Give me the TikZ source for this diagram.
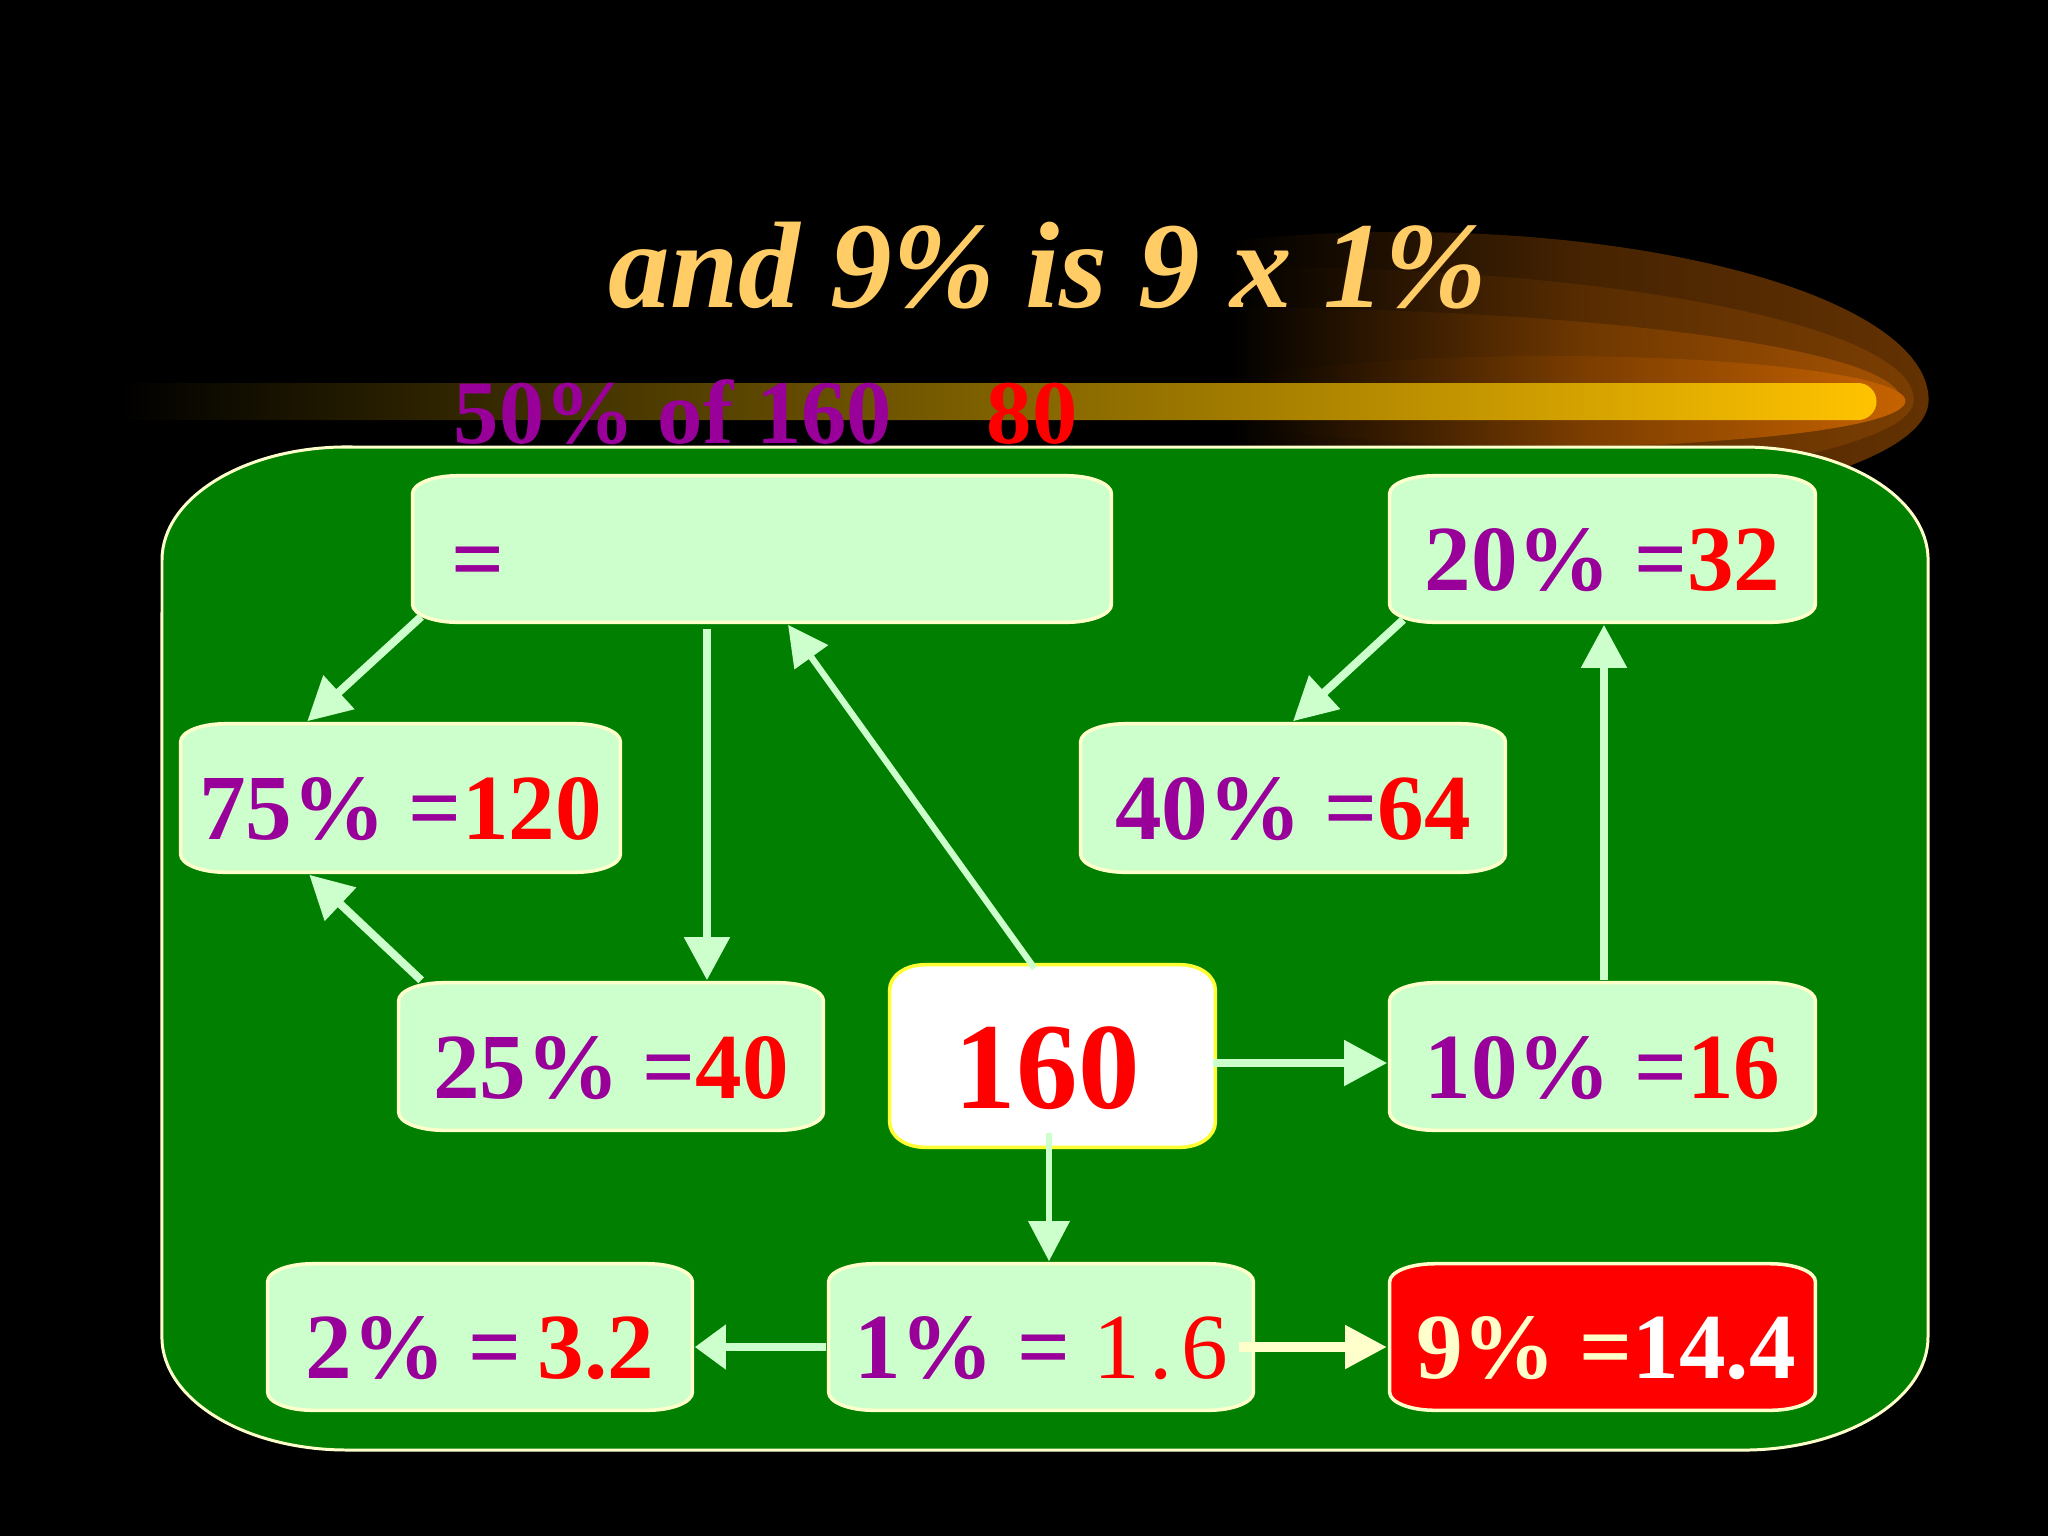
\documentclass[tikz,border=0pt]{standalone}
\usepackage{fontspec}
\setmainfont{Liberation Serif}
\usetikzlibrary{arrows.meta,calc}
\definecolor{pur}{HTML}{990099}
\definecolor{rd}{HTML}{FF0000}
\definecolor{lgrn}{HTML}{CCFFCC}
\definecolor{lyel}{HTML}{FFFFCC}
\definecolor{ttl}{HTML}{FFCC66}
\definecolor{dgrn}{HTML}{007F00}
\definecolor{ylw}{HTML}{FFFF33}
\definecolor{barend}{RGB}{255,195,0}
\definecolor{brA}{RGB}{100,50,2}
\definecolor{brB}{RGB}{125,63,2}
\definecolor{brC}{RGB}{170,85,2}
\definecolor{brD}{RGB}{205,102,0}
\newcommand\bt{\fontsize{26.5pt}{30pt}\selectfont\bfseries}
\tikzset{
  ebox/.style n args={4}{rectangle, inner sep=0pt, text height=23.6pt, text depth=0pt, font=\bt,
    path picture={\path[fill=#1,draw=#2,line width=1pt]
      let \p1=(path picture bounding box.south west), \p2=(path picture bounding box.north east) in
      ({\x1+0.5pt+#3},{\y1+0.5pt}) -- ({\x2-0.5pt-#3},{\y1+0.5pt})
      arc[start angle=-90,end angle=0,x radius=#3,y radius=#4]
      -- ({\x2-0.5pt},{\y2-0.5pt-#4})
      arc[start angle=0,end angle=90,x radius=#3,y radius=#4]
      -- ({\x1+0.5pt+#3},{\y2-0.5pt})
      arc[start angle=90,end angle=180,x radius=#3,y radius=#4]
      -- ({\x1+0.5pt},{\y1+0.5pt+#4})
      arc[start angle=180,end angle=270,x radius=#3,y radius=#4]
      -- cycle;}},
  pbox/.style={ebox={lgrn}{lyel}{0.45cm}{0.18cm}},
  conn/.style={draw=lgrn, line width=2.3pt, -{Triangle[length=0.43cm,width=0.44cm]}},
  thinconn/.style={draw=lgrn, line width=1.8pt, -{Triangle[length=0.4cm,width=0.4cm]}},
  free/.style={anchor=base west, inner sep=0pt},
}
\begin{document}
\begin{tikzpicture}[x=0.01cm,y=-0.01cm]
\fill[black] (0,0) rectangle (2048,1536);
\useasboundingbox (0,0) rectangle (2048,1536);

% swoosh layers
\begin{scope}
\clip (872,400) arc[start angle=180,end angle=0,x radius=5.28cm,y radius=1.68cm]
  arc[start angle=0,end angle=-180,x radius=5.28cm,y radius=1.25cm] -- cycle;
\shade[left color=black, right color=brA, middle color=brA!70!black] (1230,150) rectangle (1935,650);
\end{scope}
\begin{scope}
\clip (587,400) arc[start angle=180,end angle=0,x radius=6.63cm,y radius=1.33cm]
  arc[start angle=0,end angle=-180,x radius=6.63cm,y radius=1.0cm] -- cycle;
\shade[left color=black, right color=brB, middle color=brB!70!black] (1230,150) rectangle (1935,650);
\end{scope}
\begin{scope}
\clip (500,400) arc[start angle=180,end angle=0,x radius=7.0cm,y radius=0.93cm]
  arc[start angle=0,end angle=-180,x radius=7.0cm,y radius=0.6cm] -- cycle;
\shade[left color=black, right color=brC, middle color=brC!65!black] (1230,150) rectangle (1935,650);
\end{scope}
\begin{scope}
\clip (1195,401) arc[start angle=180,end angle=0,x radius=3.55cm,y radius=0.45cm]
  arc[start angle=0,end angle=-180,x radius=3.55cm,y radius=0.45cm] -- cycle;
\shade[left color=black, right color=brD, middle color=brD!60!black] (1230,150) rectangle (1935,650);
\end{scope}
\shade[left color=black, right color=barend] (118,383) -- (1858,383)
  arc[start angle=90,end angle=-90,x radius=0.185cm,y radius=0.185cm] -- (118,420) -- cycle;

\node[font=\fontsize{35pt}{40pt}\selectfont\bfseries\itshape, text=ttl, anchor=base, inner sep=0pt] (title) at (1048,307) {and 9\% is 9 x 1\%};

% green panel
\path[fill=dgrn, draw=lyel, line width=0.85pt] (347,447) -- (1743,447)
  arc[start angle=90,end angle=0,x radius=1.85cm,y radius=1.13cm] -- (1928,1337)
  arc[start angle=0,end angle=-90,x radius=1.85cm,y radius=1.13cm] -- (347,1450)
  arc[start angle=-90,end angle=-180,x radius=1.85cm,y radius=1.13cm] -- (162,560)
  arc[start angle=180,end angle=90,x radius=1.85cm,y radius=1.13cm] -- cycle;

% boxes
\node[pbox, minimum width=7.02cm, minimum height=1.5cm] (b50) at (762,549) {};
\node[pbox, minimum width=4.29cm, minimum height=1.5cm] (b20) at (1602.5,549) {\textcolor{pur}{20\% =}\textcolor{rd}{32}};
\node[pbox, minimum width=4.43cm, minimum height=1.52cm] (b75) at (400.5,798) {\textcolor{pur}{75\% =}\textcolor{rd}{120}};
\node[pbox, minimum width=4.28cm, minimum height=1.52cm] (b40) at (1293,798) {\textcolor{pur}{40\% =}\textcolor{rd}{64}};
\node[pbox, minimum width=4.28cm, minimum height=1.51cm] (b25) at (611,1056.5) {\textcolor{pur}{25\% =}\textcolor{rd}{40}};
\node[ebox={white}{ylw}{0.35cm}{0.25cm}, minimum width=3.29cm, minimum height=1.86cm,
      font=\fontsize{35pt}{40pt}\selectfont\bfseries, text height=29.6pt] (b160) at (1052.5,1056) {\textcolor{rd}{160}\hspace*{3pt}};
\node[pbox, minimum width=4.29cm, minimum height=1.51cm] (b10) at (1602.5,1056.5) {\textcolor{pur}{10\% =}\textcolor{rd}{16}};
\node[pbox, minimum width=4.28cm, minimum height=1.5cm] (b2) at (480,1337) {\textcolor{pur}{2\% =\,}\textcolor{rd}{3.2}};
\node[pbox, minimum width=4.28cm, minimum height=1.5cm] (b1) at (1041,1337) {\textcolor{pur}{1\% = }\textcolor{rd}{\mdseries 1\kern2.5pt.\kern2.5pt6}};
\node[ebox={rd}{lyel}{0.45cm}{0.18cm}, minimum width=4.29cm, minimum height=1.5cm] (b9) at (1602.5,1337) {\hspace*{2pt}\textcolor{lyel}{9\% =}\textcolor{white}{14.4}};

\node[free, font=\bt, text=pur] (eq) at (451,590) {=};

% connectors
\draw[conn] ([xshift=0.11cm,yshift=0.08cm]b50.south west) -- ([xshift=1.29cm]b75.north west);
\coordinate (s2) at ([xshift=-0.55cm,yshift=-0.04cm]b50.south);
\draw[conn] (s2) -- (s2 |- b25.north);
\draw[thinconn] ([xshift=-0.18cm,yshift=-0.06cm]b160.north) -- ([xshift=0.26cm]b50.south);
\draw[conn] ([xshift=0.16cm,yshift=0.05cm]b20.south west) -- (b40.north);
\coordinate (s5) at ([xshift=0.015cm]b10.north);
\draw[conn] (s5) -- (s5 |- b20.south);
\coordinate (s6) at ([xshift=-0.05cm,yshift=-0.07cm]b160.east);
\draw[conn] (s6) -- (s6 -| b10.west);
\draw[conn] ([xshift=0.25cm]b25.north west) -- ([xshift=1.31cm]b75.south west);
\coordinate (s8) at ([xshift=-0.035cm,yshift=0.17cm]b160.south);
\draw[thinconn] (s8) -- (s8 |- b1.north);
\coordinate (s9) at ([yshift=-0.1cm]b1.west);
\draw[draw=lgrn, line width=2.3pt, -{Triangle[length=0.31cm,width=0.43cm]}] (s9) -- (s9 -| b2.east);
\coordinate (s10) at ([xshift=-0.17cm,yshift=-0.1cm]b1.east);
\draw[draw=lyel, line width=3.1pt, -{Triangle[length=0.42cm,width=0.41cm]}] (s10) -- (s10 -| b9.west);

% stray labels
\node[free, font=\fontsize{25.8pt}{30pt}\selectfont\bfseries, text=pur] (t50) at (453,443) {50\% of 160};
\node[free, font=\fontsize{25.8pt}{30pt}\selectfont\bfseries, text=rd] (t80) at (986,443) {80};
\end{tikzpicture}
\end{document}
